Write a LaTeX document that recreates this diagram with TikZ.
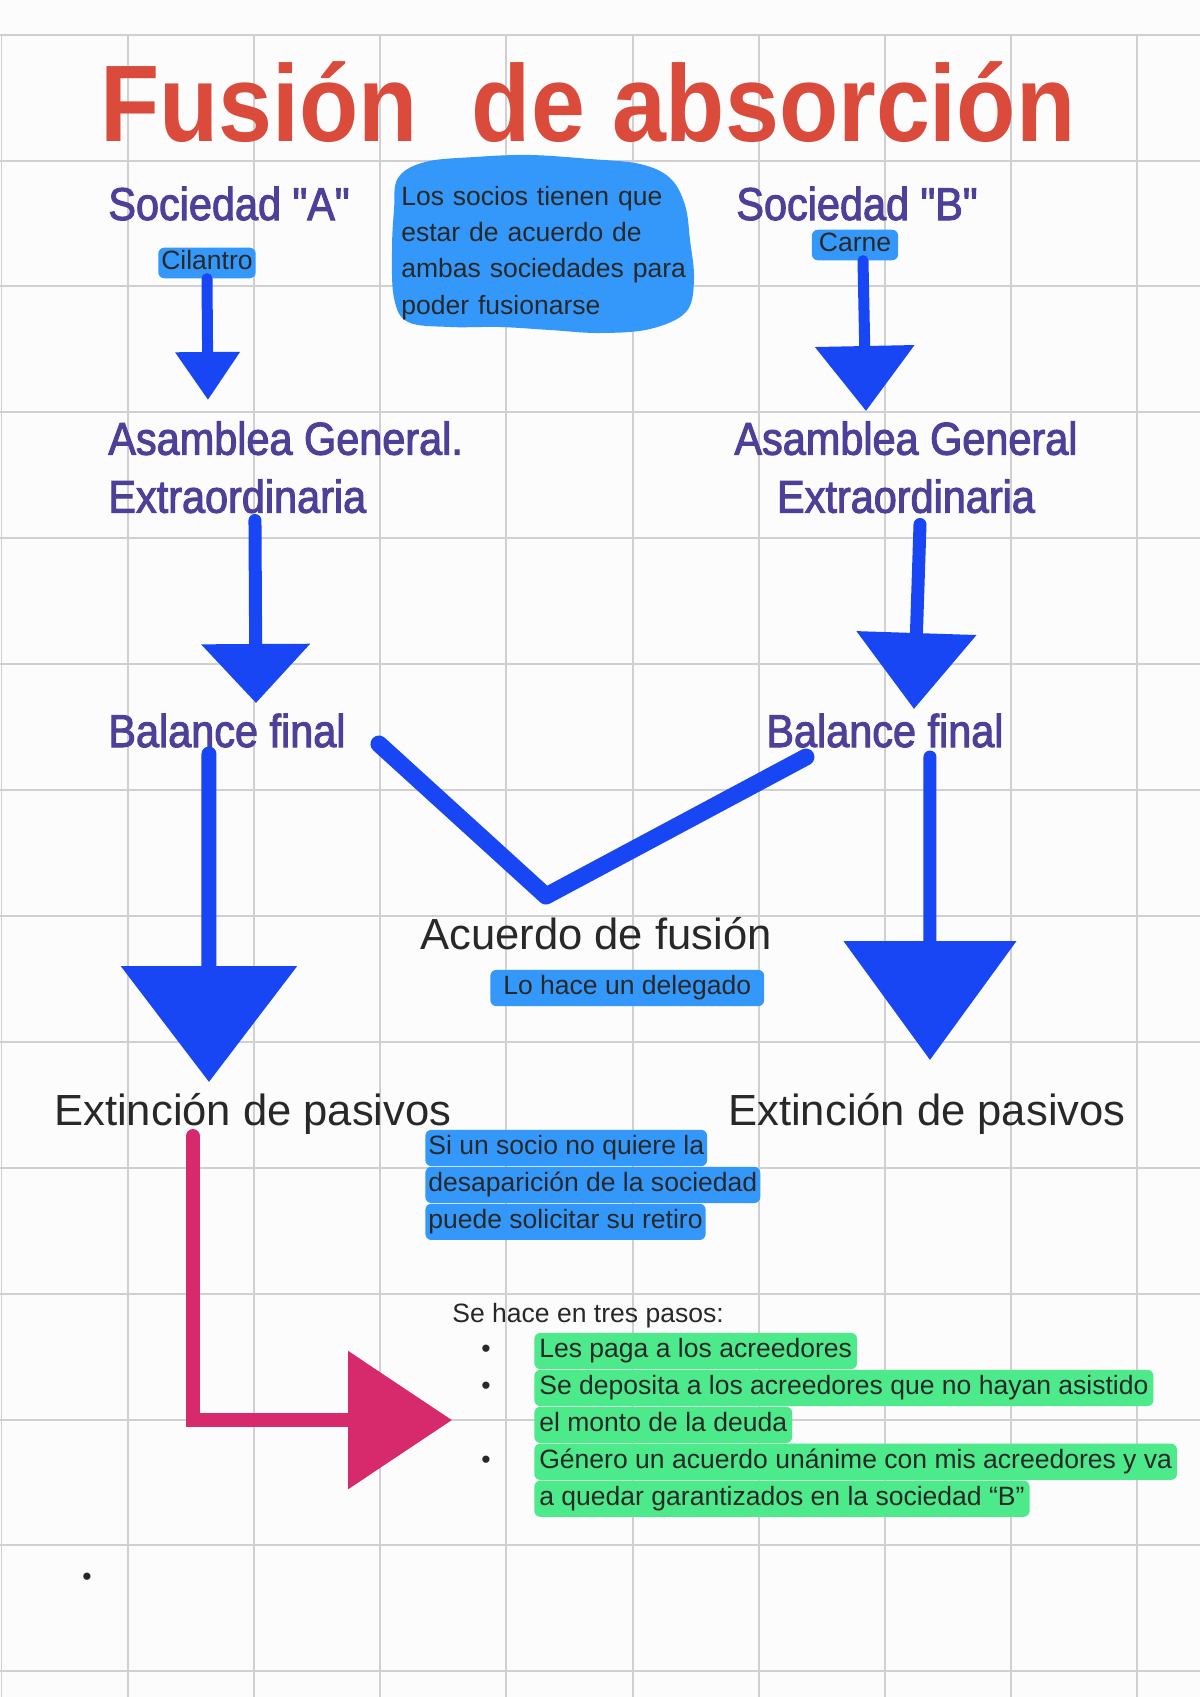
\documentclass[tikz,border=0pt]{standalone}
\usepackage{fontspec}
\setmainfont{Liberation Sans}
\newfontfamily\titlefont{Liberation Sans}[FakeStretch=0.89]
\newfontfamily\headfont{Liberation Sans}[FakeStretch=0.9,FakeBold=2.2]
\usepackage{tikz}
\usetikzlibrary{arrows.meta,positioning}

\definecolor{titlered}{RGB}{218,75,59}
\definecolor{headpurple}{RGB}{76,64,152}
\definecolor{arrowblue}{RGB}{24,70,245}
\definecolor{hlblue}{RGB}{52,152,250}
\definecolor{hlgreen}{RGB}{76,234,138}
\definecolor{pinkc}{RGB}{214,42,108}
\definecolor{textgray}{RGB}{40,40,40}
\definecolor{gridgray}{RGB}{208,208,208}
\definecolor{paper}{RGB}{252,252,252}

\begin{document}
\begin{tikzpicture}[
    x=0.02cm, y=-0.02cm,
    titlenode/.style={anchor=base west, inner sep=0, text=titlered,
        font=\titlefont\bfseries\fontsize{62}{70}\selectfont},
    headnode/.style={anchor=base west, inner sep=0, text=headpurple,
        font=\headfont\fontsize{26.2}{33}\selectfont},
    bignode/.style={anchor=base west, inner sep=0, text=textgray,
        font=\fontsize{24.8}{30}\selectfont},
    smallnode/.style={inner sep=0, text=textgray, text height=11.3pt, text depth=3.8pt,
        font=\fontsize{15.1}{20.5}\selectfont},
    bluehl/.style={smallnode, fill=hlblue, inner xsep=0.06cm, inner ysep=0.097cm, rounded corners=0.12cm},
    greenhl/.style={bluehl, fill=hlgreen, inner xsep=0.1cm},
    myarrow/.style={draw=arrowblue, line cap=round},
    myline/.style={draw=arrowblue, line width=0.34cm, line cap=round, line join=round},
    gridline/.style={draw=gridgray, line width=0.04cm}
]
\fill[paper] (0,0) rectangle (1200,1697);
\useasboundingbox (0,0) rectangle (1200,1697);

% cuadricula
\foreach \gx in {1.5,127.7,...,1140}
    \draw[gridline] (\gx,34) -- (\gx,1697);
\foreach \gy in {34.6,160.5,...,1680}
    \draw[gridline] (0,\gy) -- (1200,\gy);

\node[titlenode] (T) at (100,141) {Fusión~~de absorción};
\node[headnode] (SA) at (108,220) {Sociedad "A"};
\node[headnode] (SB) at (736,220) {Sociedad "B"};
\node[bluehl, inner xsep=0.06cm, inner ysep=0.04cm] (CA) at (207,263) {Cilantro};
\node[bluehl, inner xsep=0.14cm, inner ysep=0.04cm] (CB) at (855,245) {Carne};

% nota del centro
\fill[hlblue] plot[smooth cycle, tension=0.6] coordinates {(398,178) (425,162) (475,157) (530,155) (590,159) (640,164) (670,178) (685,205) (690,240) (694,280) (686,312) (650,329) (600,333) (550,330) (500,327) (450,327) (408,322) (394,298) (392,250) (394,210)};
\node[anchor=base west, inner sep=0, text=textgray, font=\fontsize{15.1}{20.7}\selectfont,
    align=left, text width=6.4cm] (N) at (401,205)
    {Los socios tienen que\\estar de acuerdo de\\ambas sociedades para\\poder fusionarse};

\node[headnode, anchor=north west, align=left] (AA) at (108,421) {Asamblea General.\\Extraordinaria};
\node[headnode, anchor=north, align=center] (AB) at (906,421) {Asamblea General\\Extraordinaria};
\node[headnode] (BA) at (108,747) {Balance final};
\node[headnode] (BB) at (766,747) {Balance final};
\node[bignode] (F) at (420,949) {Acuerdo de fusión};
\node[bluehl, anchor=west, inner xsep=0.26cm] (D) at (490,988) {Lo hace un delegado};
\node[bignode] (EA) at (54,1125) {Extinción de pasivos};
\node[bignode] (EB) at (728,1125) {Extinción de pasivos};

\node[bluehl, anchor=west] (R1) at (425,1148) {Si un socio no quiere la};
\node[bluehl, below=0pt of R1.south west, anchor=north west] (R2) {desaparición de la sociedad};
\node[bluehl, below=0pt of R2.south west, anchor=north west] (R3) {puede solicitar su retiro};

% lista de pasos
\node[smallnode, anchor=west] (P) at (452,1316) {Se hace en tres pasos:};
\node[greenhl, anchor=west] (L1) at (534,1351) {Les paga a los acreedores};
\node[greenhl, below=0pt of L1.south west, anchor=north west] (L2) {Se deposita a los acreedores que no hayan asistido};
\node[greenhl, below=0pt of L2.south west, anchor=north west] (L3) {el monto de la deuda};
\node[greenhl, below=0pt of L3.south west, anchor=north west] (L4) {Género un acuerdo unánime con mis acreedores y va};
\node[greenhl, below=0pt of L4.south west, anchor=north west] (L5) {a quedar garantizados en la sociedad “B”};
\node[smallnode, left=0.86cm of L1] (b1) {•};
\node[smallnode, left=0.86cm of L2] (b2) {•};
\node[smallnode, left=0.86cm of L4] (b3) {•};
\node[smallnode] (b0) at (87,1579) {•};

% flechas
\draw[myarrow, line width=0.22cm, -{Triangle[length=0.96cm, width=1.24cm]}]
    (CA.south) -- ([xshift=2cm, yshift=0.42cm]AA.north west);
\draw[myarrow, line width=0.22cm, -{Triangle[length=1.3cm, width=1.94cm]}]
    ([xshift=0.16cm]CB.south) -- ([xshift=-0.8cm, yshift=0.2cm]AB.north);
\draw[myarrow, line width=0.26cm, -{Triangle[length=1.18cm, width=2.12cm]}]
    ([xshift=2.94cm, yshift=-0.14cm]AA.south west) -- ([xshift=2.96cm, yshift=0.88cm]BA.base west);
\draw[myarrow, line width=0.26cm, -{Triangle[length=1.52cm, width=2.34cm]}]
    ([xshift=0.28cm, yshift=-0.22cm]AB.south) -- ([xshift=2.96cm, yshift=0.76cm]BB.base west);
\draw[myarrow, line width=0.3cm, -{Triangle[length=2.32cm, width=3.46cm]}]
    ([xshift=2.02cm, yshift=-0.14cm]BA.base west) -- ([xshift=3.1cm, yshift=0.86cm]EA.base west);
\draw[myarrow, line width=0.26cm, -{Triangle[length=2.38cm, width=3.4cm]}]
    ([xshift=3.28cm, yshift=-0.2cm]BB.base west) -- ([xshift=4.04cm, yshift=1.3cm]EB.base west);
\draw[myline] ([xshift=5.42cm, yshift=0.06cm]BA.base west)
    -- ([xshift=2.52cm, yshift=1.06cm]F.base west)
    -- ([xshift=0.8cm, yshift=-0.2cm]BB.base west);
\draw[draw=pinkc, line width=0.28cm, line cap=round, -{Triangle[length=2.08cm, width=2.7cm]}]
    ([xshift=2.78cm, yshift=-0.22cm]EA.base west) |- ([yshift=-1.95cm]P.base west);
\end{tikzpicture}
\end{document}
